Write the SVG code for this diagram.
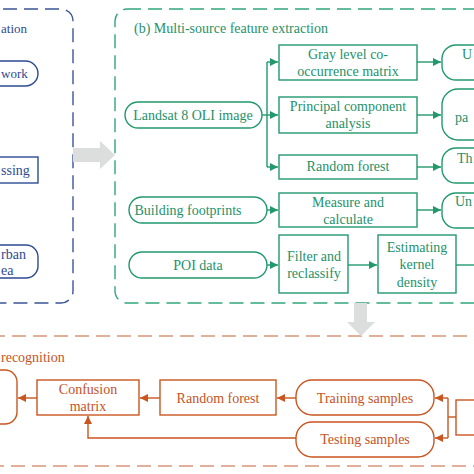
<svg xmlns="http://www.w3.org/2000/svg" width="474" height="474" viewBox="0 0 474 474" font-family="'Liberation Serif','Times New Roman',serif">
<defs>
<style>
text{font-family:"Liberation Serif","Times New Roman",serif;font-size:14px}
.b{fill:#2d4a93}
.g{fill:#24916a}
.o{fill:#c4531f}
.bs{fill:none;stroke:#2d4a93;stroke-width:1.4}
.gs{fill:none;stroke:#22996d;stroke-width:1.4}
.os{fill:none;stroke:#c9561f;stroke-width:1.4}
.panel{fill:none;stroke-width:1.4;stroke-dasharray:14 7}
.gl{fill:none;stroke:#22996d;stroke-width:1.4}
.ol{fill:none;stroke:#c9561f;stroke-width:1.4}
</style>
<marker id="ag" viewBox="0 0 10 10" refX="10" refY="5" markerWidth="8" markerHeight="8" markerUnits="userSpaceOnUse" orient="auto"><path d="M0,0 L10,5 L0,10 Z" fill="#22996d"/></marker>
<marker id="ao" viewBox="0 0 10 10" refX="10" refY="5" markerWidth="8" markerHeight="8" markerUnits="userSpaceOnUse" orient="auto"><path d="M0,0 L10,5 L0,10 Z" fill="#c9561f"/></marker>
</defs>
<rect width="474" height="474" fill="#ffffff"/>

<g id="panels">
<rect x="-30" y="9" width="103" height="294" rx="12" class="panel" stroke="#3a5596"/>
<rect x="115" y="9" width="380" height="294" rx="12" class="panel" stroke="#33a67c"/>
<rect x="-30" y="336" width="540" height="130" class="panel" stroke="#d9957a"/>
<text x="1" y="33" class="b" style="font-size:13px">ation</text>
<text x="134" y="33" class="g">(b) Multi-source feature extraction</text>
<text x="1" y="362" class="o">recognition</text>
<path d="M73,148 H100 V141 L115,155 L100,169 V162 H73 Z" fill="#dcdedd"/>
<path d="M354,303 H367 V322 H375 L361,336 L347,322 H354 Z" fill="#dcdedd"/>
</g>

<g id="a-work"><rect x="-30" y="61" width="68" height="25" rx="12.5" class="bs"/><text x="1" y="78" class="b" style="font-size:13px">work</text></g>
<g id="a-ssing"><rect x="-30" y="157" width="68" height="26" class="bs"/><text x="1" y="175" class="b">ssing</text></g>
<g id="a-urban"><rect x="-30" y="245" width="68" height="33" rx="12" class="bs"/><text x="1" y="259" class="b">rban</text><text x="1" y="275" class="b">ea</text></g>

<g id="landsat"><rect x="125" y="102" width="137" height="26" rx="13" class="gs"/><text x="193" y="120" class="g" text-anchor="middle">Landsat 8 OLI image</text></g>
<g id="building"><rect x="129" y="197" width="138" height="26" rx="13" class="gs"/><text x="188" y="215" class="g" text-anchor="middle">Building  footprints</text></g>
<g id="poi"><rect x="129" y="252" width="138" height="26" rx="13" class="gs"/><text x="198" y="270" class="g" text-anchor="middle">POI data</text></g>
<g id="glcm"><rect x="279" y="45" width="138" height="35" class="gs"/><text x="348" y="59" class="g" text-anchor="middle">Gray level co-</text><text x="348" y="76" class="g" text-anchor="middle">occurrence matrix</text></g>
<g id="pca"><rect x="279" y="97" width="138" height="36" class="gs"/><text x="348" y="111" class="g" text-anchor="middle">Principal component</text><text x="348" y="128" class="g" text-anchor="middle">analysis</text></g>
<g id="rf1"><rect x="279" y="155" width="138" height="24" class="gs"/><text x="348" y="171" class="g" text-anchor="middle">Random forest</text></g>
<g id="measure"><rect x="279" y="193" width="138" height="34" class="gs"/><text x="348" y="207" class="g" text-anchor="middle">Measure and</text><text x="348" y="224" class="g" text-anchor="middle">calculate</text></g>
<g id="filter"><rect x="279" y="235" width="69" height="58" class="gs"/><text x="314" y="261" class="g" text-anchor="middle">Filter and</text><text x="314" y="278" class="g" text-anchor="middle">reclassify</text></g>
<g id="kde"><rect x="378" y="235" width="78" height="58" class="gs"/><text x="417" y="252" class="g" text-anchor="middle">Estimating</text><text x="417" y="269" class="g" text-anchor="middle">kernel</text><text x="417" y="287" class="g" text-anchor="middle">density</text></g>
<g id="out-u"><rect x="442" y="45" width="60" height="35" rx="14" class="gs"/><text x="462" y="59" class="g">U</text></g>
<g id="out-pa"><rect x="442" y="89" width="60" height="51" rx="16" class="gs"/><text x="455" y="122" class="g">pa</text></g>
<g id="out-th"><rect x="442" y="148" width="60" height="35" rx="14" class="gs"/><text x="457" y="163" class="g">Th</text></g>
<g id="out-un"><rect x="442" y="193" width="60" height="35" rx="14" class="gs"/><text x="455" y="206" class="g">Un</text></g>

<g id="o-left"><rect x="-30" y="370" width="47" height="54" rx="12" class="os"/></g>
<g id="confusion"><rect x="37" y="380" width="102" height="35" class="os"/><text x="88" y="394" class="o" text-anchor="middle">Confusion</text><text x="88" y="411" class="o" text-anchor="middle">matrix</text></g>
<g id="rf2"><rect x="160" y="380" width="116" height="35" class="os"/><text x="218" y="403" class="o" text-anchor="middle">Random forest</text></g>
<g id="training"><rect x="296" y="380" width="138" height="35" rx="16" class="os"/><text x="365" y="403" class="o" text-anchor="middle">Training samples</text></g>
<g id="testing"><rect x="296" y="422" width="138" height="35" rx="16" class="os"/><text x="365" y="444" class="o" text-anchor="middle">Testing samples</text></g>
<g id="o-right"><rect x="456" y="400" width="40" height="35" class="os"/></g>

<g id="connectors">
<path d="M262,115 H278" class="gl" marker-end="url(#ag)"/>
<path d="M267,62 V167" class="gl"/>
<path d="M267,62 H278" class="gl" marker-end="url(#ag)"/>
<path d="M267,167 H278" class="gl" marker-end="url(#ag)"/>
<path d="M267,210 H278" class="gl" marker-end="url(#ag)"/>
<path d="M267,265 H278" class="gl" marker-end="url(#ag)"/>
<path d="M348,265 H377" class="gl" marker-end="url(#ag)"/>
<path d="M456,265 H474" class="gl"/>
<path d="M417,62 H441" class="gl" marker-end="url(#ag)"/>
<path d="M417,115 H441" class="gl" marker-end="url(#ag)"/>
<path d="M417,167 H441" class="gl" marker-end="url(#ag)"/>
<path d="M417,210 H441" class="gl" marker-end="url(#ag)"/>
<path d="M37,398 H18" class="ol" marker-end="url(#ao)"/>
<path d="M160,398 H140" class="ol" marker-end="url(#ao)"/>
<path d="M296,398 H277" class="ol" marker-end="url(#ao)"/>
<path d="M296,438 H88 V416" class="ol" marker-end="url(#ao)"/>
<path d="M456,417 H448" class="ol"/>
<path d="M448,398 V438" class="ol"/>
<path d="M448,398 H435" class="ol" marker-end="url(#ao)"/>
<path d="M448,438 H435" class="ol" marker-end="url(#ao)"/>
</g>
</svg>
